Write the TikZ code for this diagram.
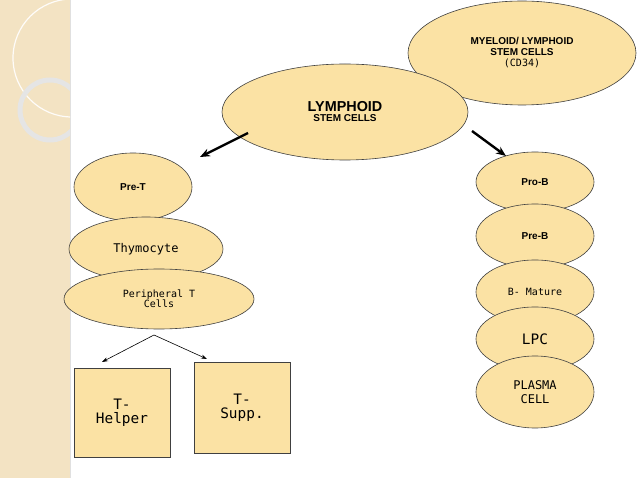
\documentclass[tikz,border=0pt]{standalone}
\usepackage{fontspec}
\setmainfont{Liberation Sans}
\newfontfamily\monof{DejaVu Sans Mono}
\usetikzlibrary{shapes.geometric,arrows.meta}
\definecolor{cellfill}{HTML}{FBE2A4}
\definecolor{stripbg}{HTML}{F3E3C3}
\tikzset{
  cell/.style={ellipse,draw=black!75,fill=cellfill,line width=0.6pt,inner sep=0pt,align=center},
  box/.style={draw=black!75,fill=cellfill,line width=0.6pt,align=center,inner sep=0pt},
  thin/.style={-{Stealth[length=6pt,width=4pt]},line width=0.6pt},
  fat/.style={-{Stealth[length=10pt,width=8pt]},line width=2.4pt}
}
\begin{document}
\begin{tikzpicture}[x=1pt,y=-1pt]
\useasboundingbox (0,0) rectangle (638,478);
\fill[white] (0,0) rectangle (638,478);
\fill[stripbg] (0,0) rectangle (70,478);
\draw[black!12,line width=0.6pt] (70,0) -- (70,478);
\begin{scope}
\clip (0,0) rectangle (70,478);
\draw[white!90!stripbg,line width=1.2pt] (72,58) circle (59);
\draw[black!10,line width=5pt] (50,110) circle (30);
\end{scope}

\node[cell,minimum width=228pt,minimum height=104pt] (mye) at (522,53)
  {\bfseries MYELOID/ LYMPHOID\\[-1pt]\bfseries STEM CELLS\\[-1pt]{\monof (CD34)}};
\node[cell,minimum width=246pt,minimum height=96pt] (lym) at (345,112)
  {\bfseries\Large LYMPHOID\\[-2pt]\bfseries STEM CELLS};
\node[cell,minimum width=118pt,minimum height=68pt] (pret) at (133,187) {\bfseries Pre-T};
\node[cell,minimum width=154pt,minimum height=64pt] (thy) at (146,249) {\monof\large Thymocyte};
\node[cell,minimum width=190pt,minimum height=60pt] (per) at (159,299)
  {\monof Peripheral T\\[-2pt]\monof Cells};
\node[box,minimum width=96pt,minimum height=89pt] (th) at (122,413)
  {\monof\Large T-\\[2pt]\monof\Large Helper};
\node[box,minimum width=96pt,minimum height=91pt] (ts) at (242,408)
  {\monof\Large T-\\[2pt]\monof\Large Supp.};

\node[cell,minimum width=118pt,minimum height=60pt] (prob) at (535,182) {\bfseries Pro-B};
\node[cell,minimum width=118pt,minimum height=64pt] (preb) at (535,236) {\bfseries Pre-B};
\node[cell,minimum width=118pt,minimum height=64pt] (bmat) at (535,292) {\monof B- Mature};
\node[cell,minimum width=118pt,minimum height=64pt] (lpc) at (535,339) {\monof\Large LPC};
\node[cell,minimum width=118pt,minimum height=72pt] (pla) at (535,392)
  {\monof\large PLASMA\\[2pt]\monof\large CELL};

\coordinate (a1s) at (248,133); \coordinate (a1e) at (200,157);
\coordinate (a2s) at (472,131); \coordinate (a2e) at (506,156);
\draw[fat] (a1s) -- (a1e);
\draw[fat] (a2s) -- (a2e);
\coordinate (fork) at (154,335);
\coordinate (tl) at (102,362); \coordinate (tr) at (207,359);
\draw[thin] (fork) -- (tl);
\draw[thin] (fork) -- (tr);
\end{tikzpicture}
\end{document}
